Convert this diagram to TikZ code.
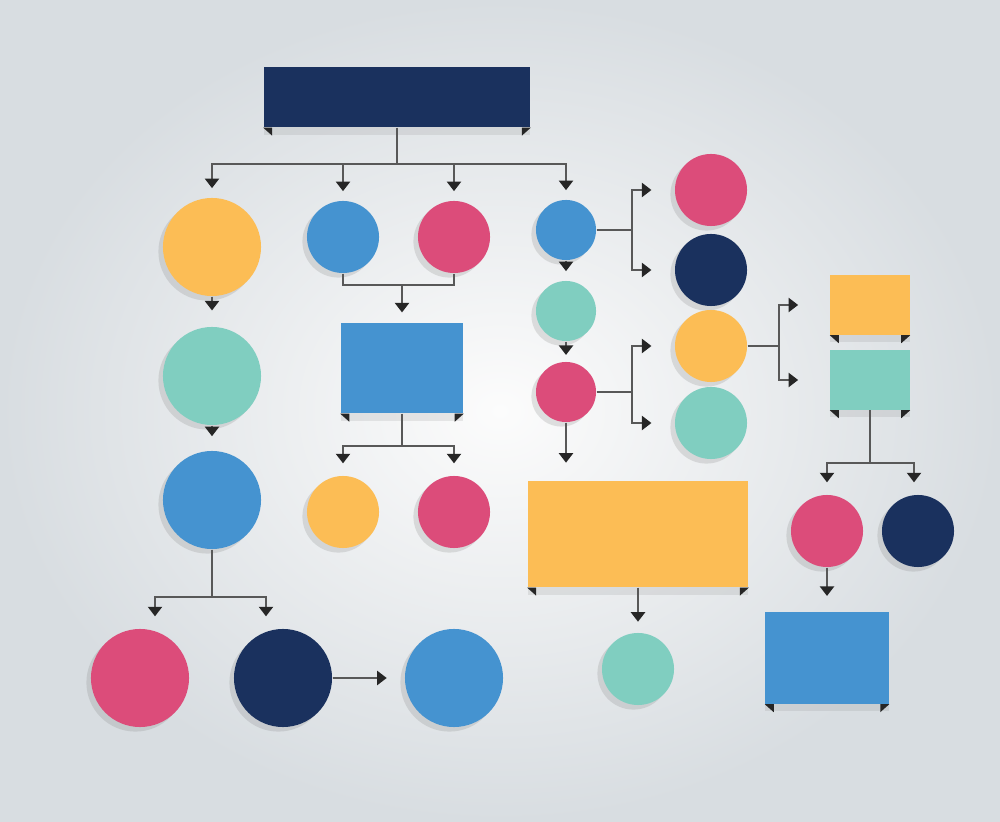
\documentclass[tikz,border=0pt]{standalone}
\usepackage{tikz}
\usetikzlibrary{arrows.meta,shapes,positioning,calc,shadows}
\usepackage{xcolor}
\definecolor{navy}{RGB}{26,49,94}
\definecolor{gold}{RGB}{252,189,85}
\definecolor{mint}{RGB}{128,206,192}
\definecolor{rose}{RGB}{220,76,122}
\definecolor{azure}{RGB}{69,147,208}
\definecolor{wire}{RGB}{88,88,88}
\definecolor{tipc}{RGB}{38,38,38}
\definecolor{bgin}{RGB}{252,252,252}
\definecolor{bgout}{RGB}{216,221,225}
\newcommand{\boxtabs}[1]{%
    \fill[tipc] (#1.south west) -- ++(9,0) -- ++(0,8) -- cycle;
    \fill[tipc] (#1.south east) -- ++(-9,0) -- ++(0,8) -- cycle;}

\begin{document}
\begin{tikzpicture}[x=0.01cm, y=-0.01cm,
    blob/.style={circle, inner sep=0pt, minimum size=#1,
        drop shadow={shadow xshift=-1.3pt, shadow yshift=-1.3pt, opacity=0.22}},
    card/.style 2 args={rectangle, inner sep=0pt, minimum width=#1, minimum height=#2,
        drop shadow={shadow xshift=0pt, shadow yshift=-2.2pt, opacity=0.16}},
    link/.style={draw=wire, line width=0.55pt},
    arr/.style={link, -{Triangle[width=4pt,length=2.7pt,color=tipc]}, shorten >=2.6pt}]

    % Background
    \shade[inner color=bgin, outer color=bgout] (0,0) rectangle (1000,822);

    % Top bar
    \node[card={2.66cm}{0.60cm}, fill=navy] (head) at (397,97) {};

    % Left column
    \node[blob=0.98cm, fill=gold] (lA) at (212,247) {};
    \node[blob=0.98cm, fill=mint] (lB) at (212,376) {};
    \node[blob=0.98cm, fill=azure] (lC) at (212,500) {};
    \node[blob=0.98cm, fill=rose] (lD) at (140,678) {};
    \node[blob=0.98cm, fill=navy] (lE) at (283,678) {};
    \node[blob=0.98cm, fill=azure] (lF) at (454,678) {};

    % Middle column
    \node[blob=0.72cm, fill=azure] (mA) at (343,237) {};
    \node[blob=0.72cm, fill=rose] (mB) at (454,237) {};
    \node[card={1.22cm}{0.90cm}, fill=azure] (mbox) at (402,368) {};
    \node[blob=0.72cm, fill=gold] (mC) at (343,512) {};
    \node[blob=0.72cm, fill=rose] (mD) at (454,512) {};

    % Right-middle column
    \node[blob=0.6cm, fill=azure] (rA) at (566,230) {};
    \node[blob=0.6cm, fill=mint] (rB) at (566,311) {};
    \node[blob=0.6cm, fill=rose] (rC) at (566,392) {};
    \node[card={2.2cm}{1.06cm}, fill=gold] (rbox) at (638,534) {};
    \node[blob=0.72cm, fill=mint] (rD) at (638,669) {};

    % Stack of circles
    \node[blob=0.72cm, fill=rose] (kA) at (711,190) {};
    \node[blob=0.72cm, fill=navy] (kB) at (711,270) {};
    \node[blob=0.72cm, fill=gold] (kC) at (711,346) {};
    \node[blob=0.72cm, fill=mint] (kD) at (711,423) {};

    % Far right
    \node[card={0.79cm}{0.59cm}, fill=gold] (sbox1) at (870,305) {};
    \node[card={0.79cm}{0.59cm}, fill=mint] (sbox2) at (870,380) {};
    \node[blob=0.72cm, fill=rose] (sA) at (827,531) {};
    \node[blob=0.72cm, fill=navy] (sB) at (918,531) {};
    \node[card={1.23cm}{0.91cm}, fill=azure] (sbox3) at (827,658) {};

    % Tabs under the boxes
    \foreach \b in {head,mbox,rbox,sbox1,sbox2,sbox3} {\boxtabs{\b}}

    % Top bar to first row
    \draw[link] (head.south) -- ++(0,36) coordinate (hj);
    \foreach \n in {lA,mA,mB,rA} \draw[arr] (hj) -| (\n.north);

    % Left chain
    \draw[arr, shorten >=4.5pt] (lA) -- (lB);
    \draw[arr, shorten >=4pt] (lB) -- (lC);
    \draw[link] (lC.south) -- ++(0,47) coordinate (lj);
    \draw[arr, shorten >=3.4pt] (lj) -| ([xshift=0.15cm]lD.north);
    \draw[arr, shorten >=3.4pt] (lj) -| ([xshift=-0.17cm]lE.north);
    \draw[arr, shorten >=5pt] (lE) -- (lF);

    % Pair into box, box to pair
    \draw[link] (mA.south) -- ++(0,11) coordinate (mj) -| (mB.south);
    \draw[arr, shorten >=2.8pt] (mj -| mbox) -- (mbox.north);
    \draw[link] (mbox.south) -- ++(0,32) coordinate (bj);
    \draw[arr, shorten >=3.4pt] (bj) -| (mC.north);
    \draw[arr, shorten >=3.4pt] (bj) -| (mD.north);

    % Right-middle chain
    \draw[arr] (rA) -- (rB);
    \draw[arr, shorten >=1.8pt] (rB) -- (rC);
    \draw[arr, shorten >=5pt] (rC) -- (rC |- rbox.north);
    \draw[arr, shorten >=3pt] (rbox.south) -- (rD.north);

    % Splits to the stack
    \draw[link] (rA.east) -- ++(35,0) coordinate (aj);
    \draw[arr, shorten >=6.5pt] (aj) |- (kA.west);
    \draw[arr, shorten >=6.5pt] (aj) |- (kB.west);
    \draw[link] (rC.east) -- ++(35,0) coordinate (cj);
    \draw[arr, shorten >=6.5pt] (cj) |- (kC.west);
    \draw[arr, shorten >=6.5pt] (cj) |- (kD.west);
    \draw[link] (kC.east) -- ++(31,0) coordinate (kj);
    \draw[arr, shorten >=9pt] (kj) |- (sbox1.west);
    \draw[arr, shorten >=9pt] (kj) |- (sbox2.west);

    % Far right
    \draw[link] (sbox2.south) -- ++(0,53) coordinate (fj);
    \draw[arr, shorten >=3.4pt] (fj) -| (sA.north);
    \draw[arr, shorten >=3.4pt] (fj) -| ([xshift=-0.04cm]sB.north);
    \draw[arr, shorten >=4.5pt] (sA) -- (sbox3);
\end{tikzpicture}
\end{document}
